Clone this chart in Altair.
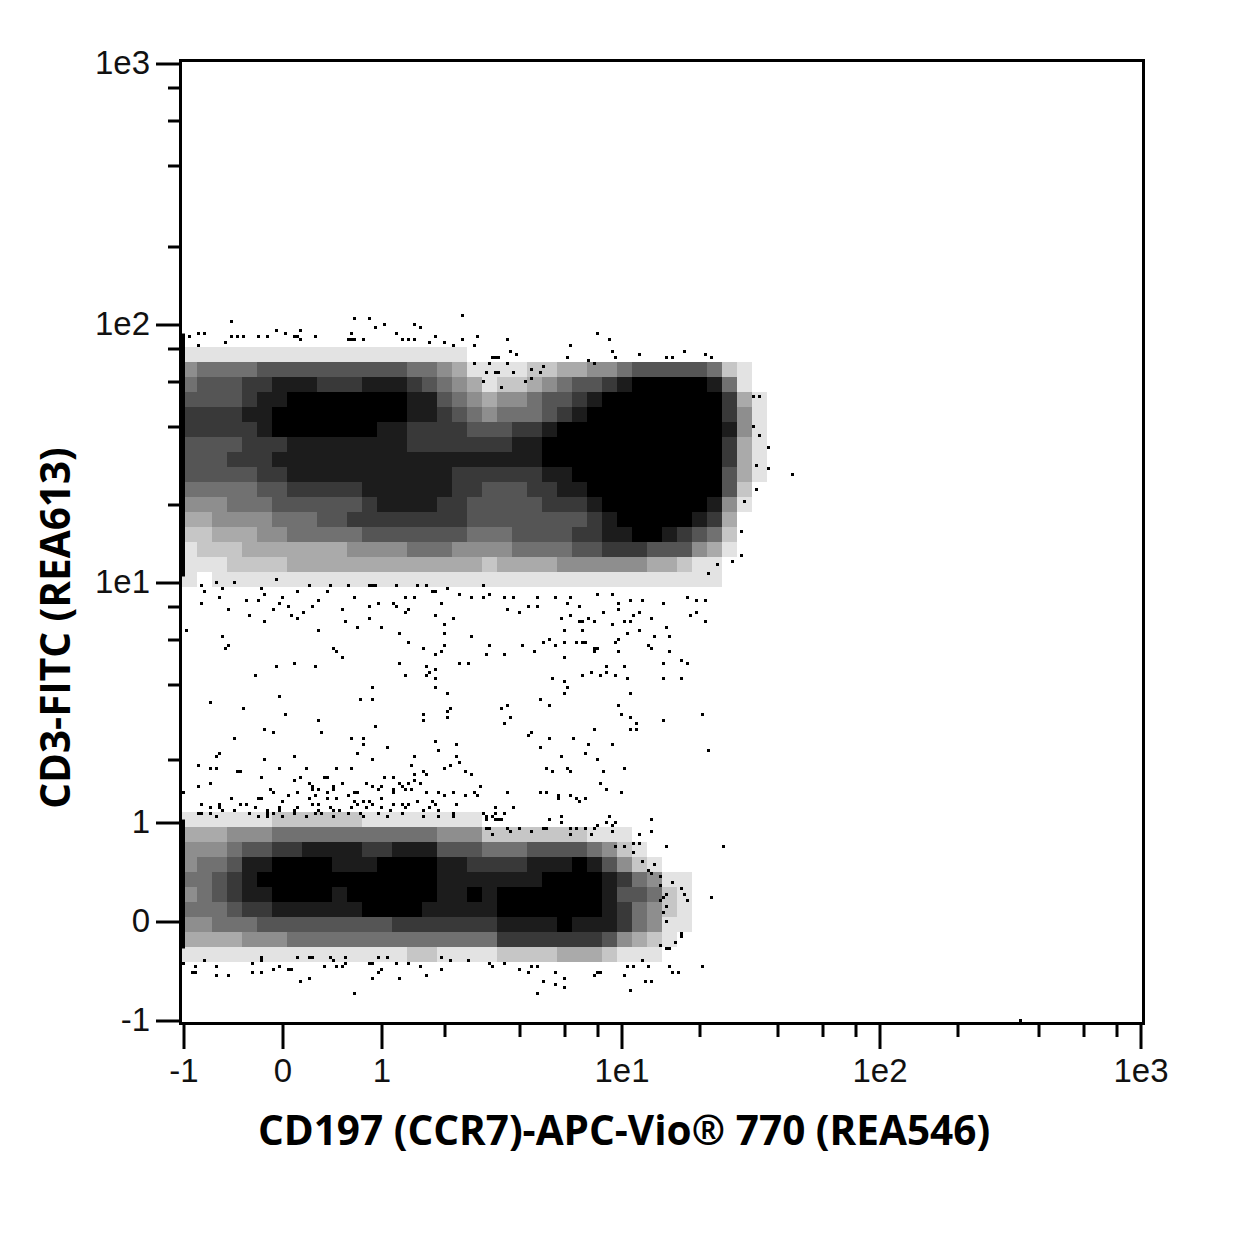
import json
import altair as alt
import pandas as pd

X_TITLE = "CD197 (CCR7)-APC-Vio® 770 (REA546)"
Y_TITLE = "CD3-FITC (REA613)"

# Display channel of each axis tick (the biexponential display has 320 channels)
tick_channels = [0, 33, 66, 87, 112, 127, 138, 146, 172, 198, 213, 224, 232, 258, 285, 300, 311, 319]
tick_labels = ["-1", "0", "1", "", "", "", "", "1e1", "", "", "", "", "1e2", "", "", "", "", "1e3"]
major_channels = [0, 33, 66, 146, 232, 319]

# Density (0-9): 5-channel cells, first column at channel 0
upper_first_row = 29   # bottom row index (row * 5 = y channel)
upper_rows = [  # listed top to bottom
    "111111111111111111100000000000000000000",
    "455556666666666554311112233445666665210",
    "566677888777888765431223456678999998510",
    "666678899999999886543445667899999999731",
    "777788999999999887654555678999999999741",
    "777778999999988777766677899999999999841",
    "666677788888888777777788999999999999731",
    "666777888888888888888888999999999999731",
    "666667788888888888777777889999999999631",
    "555556677777888888776667788999999999620",
    "444555666666788887766666777899999998410",
    "334444555667777777766666666789999987300",
    "223334455555666666655566667788998765200",
    "122233333334444555444455556677766643100",
    "111222233333333333332333344444433211000",
    "101111111111111111111111111111111111000",
]
lower_first_row = 4
lower_rows = [  # listed top to bottom
    "11111122222211111111000000000000000",
    "33344455555555555444222222211100000",
    "44456677888877888666555666654210000",
    "45568899998889999887777888986421000",
    "55678999999999999888888899998754110",
    "45678899998999999889899999998665210",
    "55567788888899998888899999998754210",
    "44555666666666777777788889888754110",
    "33334445555555555555577777776432100",
    "11111111111111122111122223332111000",
]

# Events standing on the left edge of the plot: (low channel, high channel)
edge_piles = [(24, 67), (148, 229)]

# Individual events in the sparse areas: (x channel, y channel)
dots_top_left = [
    (16,233),(57,234),(62,234),(93,235),(67,232),(64,231),(77,232),(79,231),(31,230),(39,230),(2,228),(5,229),(7,229),
    (16,228),(18,228),(20,228),(25,228),(28,228),(34,229),(37,228),(38,228),(44,228),(56,229),(60,227),(55,227),(56,227),
    (57,227),(71,229),(84,228),(98,228),(93,227),(73,227),(75,227),(77,227),(87,226),(97,225),(90,225),(82,226),(14,226),
    (5,225),(39,227),(102,219),(97,219),(104,221),(104,216),(101,216),(100,213),
]
dots_top_right = [
    (138,229),(142,227),(108,227),(129,225),(143,223),(167,223),(109,223),(111,222),(128,221),(152,222),(174,222),(176,221),
    (161,221),(163,221),(144,221),(135,220),(105,221),(103,221),(108,219),(102,219),(120,218),(137,219),(101,216),(105,216),
    (110,216),(116,217),(119,216),(116,214),(100,213),(106,211),(114,213),(192,208),(190,208),(190,198),(195,191),(195,184),
    (203,182),(192,195),(191,185),(191,177),(187,173),(186,163),(186,155),(183,153),(178,152),(175,149),(174,140),(171,140),
    (171,136),(169,135),(168,141),
]
dots_upper_fringe_left = [
    (7,143),(12,141),(6,139),(15,137),(22,135),(36,135),(38,134),(40,136),(30,137),(35,138),(32,139),(33,141),(43,138),
    (45,140),(25,140),(27,142),(21,140),(53,137),(62,134),(71,138),(75,137),(74,136),(84,135),(90,134),(86,139),(96,141),
    (100,141),(92,142),(84,143),(77,141),(74,141),(70,139),(65,139),(62,138),(57,141),(48,143),(42,145),(49,145),(55,145),
    (62,145),(63,145),(64,145),(71,145),(78,145),(83,143),(81,145),(88,144),(100,145),(38,143),(31,147),(26,144),(17,146),
    (13,144),(11,146),(6,145),(1,130),
]
dots_upper_fringe_right = [
    (135,134),(129,135),(126,134),(140,136),(145,137),(150,135),(152,136),(156,134),(160,139),(153,140),(149,140),(118,138),
    (115,138),(112,136),(108,137),(110,141),(107,141),(102,142),(100,141),(118,141),(124,141),(129,141),(128,139),(132,138),
    (138,142),(143,142),(145,139),
]
dots_middle_left = [
    (27,133),(54,133),(58,131),(66,131),(87,132),(87,129),(45,130),(13,128),(72,129),(96,128),(75,126),(15,125),(14,124),
    (50,124),(51,123),(87,125),(102,125),(80,124),(86,123),(84,122),(101,122),(53,121),(37,119),(31,118),(44,118),(72,119),
    (92,119),(95,119),(81,118),(84,117),(82,116),(81,115),(24,115),(74,115),(84,114),(84,111),(63,111),(88,109),(32,108),
    (59,107),(63,107),(9,106),(20,104),(89,104),(88,103),(34,102),(80,102),(88,101),(45,100),(80,100),(64,98),(27,97),
    (30,96),(46,96),(17,94),(56,94),(60,94),(60,92),(84,93),(91,92),(68,91),(85,90),(58,89),(12,89),(11,88),(37,88),(77,88),
    (91,88),(27,87),(63,87),(92,86),(5,85),(76,85),(89,85),(9,84),(11,84),(32,84),(41,84),(51,84),(56,84),(87,84),(94,83),
    (18,83),(19,83),(80,83),(81,82),(77,82),(96,82),(26,81),(39,81),(47,81),(48,81),(67,81),(70,81),(37,80),(77,80),
]
dots_above_lower_left = [
    (5,78),(9,79),(42,79),(43,78),(53,79),(50,78),(61,79),(63,78),(66,78),(72,79),(75,79),(73,78),(79,79),(99,78),(74,77),
    (76,77),(29,77),(43,77),(70,77),(65,77),(45,77),(50,77),(0,76),(30,76),(38,76),(48,76),(57,76),(58,76),(70,76),(81,76),
    (85,76),(90,76),(97,76),(35,75),(44,75),(55,75),(87,75),(94,75),(98,75),(16,74),(25,74),(26,74),(42,74),(48,74),(51,74),
    (66,74),(33,73),(57,73),(60,73),(62,73),(78,73),(83,73),(6,72),(12,72),(19,72),(21,72),(43,72),(45,72),(58,72),(63,72),
    (70,72),(73,72),(75,72),(91,72),(84,72),(9,71),(12,71),(24,71),(32,71),(38,71),(49,71),(56,71),(61,71),(66,71),(74,71),
    (82,71),(104,71),(13,70),(17,70),(28,70),(32,70),(37,70),(45,70),(50,70),(52,70),(69,70),(80,70),(85,70),(5,69),(6,69),
    (9,69),(22,69),(28,69),(30,69),(37,69),(44,69),(46,69),(55,69),(59,69),(65,69),(73,69),(90,69),(100,69),(104,69),(11,68),
    (25,68),(28,68),(33,68),(41,68),(50,68),(60,68),(68,68),(80,68),(85,68),(90,68),(101,68),
]
dots_middle_right = [
    (132,133),(133,133),(137,133),(143,132),(147,133),(149,133),(174,133),(161,131),(127,130),(133,130),(152,130),(148,129),
    (157,128),(162,128),(122,127),(145,127),(120,126),(127,126),(131,126),(134,126),(133,126),(144,126),(102,125),(113,125),
    (124,125),(155,125),(156,124),(137,124),(138,124),(137,123),(117,123),(145,123),(162,123),(101,122),(107,122),(127,121),
    (166,120),(160,119),(168,119),(141,118),(147,118),(136,116),(141,116),(133,115),(139,115),(144,115),(123,114),(148,114),
    (160,114),(166,114),(127,113),(128,111),(127,109),(149,109),(119,107),(108,105),(122,105),(145,105),(106,104),(146,102),
    (173,102),(109,101),(149,101),(160,100),(107,99),(151,99),(137,97),(149,97),(151,97),(116,96),(115,95),(122,94),(130,94),
    (135,92),(143,92),(119,91),(175,90),(134,89),(126,88),(138,87),(121,84),(128,84),(147,84),(123,83),(129,83),(140,83),
    (139,79),(99,78),(141,77),(108,76),(119,76),(121,76),(146,76),(125,75),(125,74),(129,75),(131,74),(134,74),(132,73),
    (110,71),(104,71),(100,69),(104,69),(107,69),(103,68),(126,68),(142,68),(101,67),(104,67),(105,67),(106,67),(122,67),
    (156,67),(126,66),(141,66),(144,66),(143,65),(101,64),(102,64),(108,64),(112,64),(120,64),(121,64),(129,64),(131,64),
    (134,64),(137,64),(138,65),(143,63),(156,63),(103,62),(109,63),(116,63),(152,62),(129,62),(136,62),(161,58),(180,58),
    (144,58),(147,58),(150,59),(152,59),(150,56),(153,53),(157,52),(155,50),(159,48),(156,49),
]
dots_lower_right = [
    (163,46),(159,45),(166,44),(167,42),(176,41),(168,40),(161,42),(160,41),(159,40),(161,38),(160,36),(161,33),(166,29),
    (166,28),(164,26),(159,25),(161,24),(162,24),(173,18),(162,18),(163,16),(165,16),(155,18),(148,18),(153,20),(150,18),
    (154,13),(156,13),(149,10),(147,15),(137,15),(138,16),(139,16),(127,14),(127,11),(124,12),(124,16),(120,13),(118,9),
    (112,17),(115,16),(116,18),(118,18),(107,19),(103,18),(102,19),(279,0),
]
dots_lower_left = [
    (7,20),(11,18),(0,19),(4,18),(3,16),(4,16),(11,15),(15,15),(23,16),(26,16),(23,19),(26,21),(26,20),(30,17),(32,18),
    (36,17),(35,17),(38,21),(42,21),(43,21),(39,13),(42,14),(47,18),(51,18),(49,21),(50,20),(53,18),(54,19),(54,21),(57,9),
    (62,19),(63,19),(66,17),(65,16),(63,14),(65,21),(68,21),(71,19),(72,14),(75,19),(79,18),(81,15),(86,17),(86,21),(89,20),
    (95,20),(102,19),
]

CELL = 5
BIN_HALF = 0.5


def grid_records(rows, first_row):
    out = []
    for i, row in enumerate(rows):
        j = first_row + len(rows) - 1 - i
        for k, ch in enumerate(row):
            if ch != "0":
                out.append({"x": k * CELL - BIN_HALF, "x2": (k + 1) * CELL - BIN_HALF,
                            "y": j * CELL - BIN_HALF, "y2": (j + 1) * CELL - BIN_HALF, "d": int(ch)})
    return out


cells = pd.DataFrame(grid_records(upper_rows, upper_first_row) + grid_records(lower_rows, lower_first_row))
all_dots = (dots_top_left + dots_top_right + dots_upper_fringe_left + dots_upper_fringe_right + dots_middle_left
            + dots_above_lower_left + dots_middle_right + dots_lower_right + dots_lower_left)
dots = pd.DataFrame(all_dots, columns=["c", "r"]).drop_duplicates()
dots = dots.assign(x=dots.c - BIN_HALF, x2=dots.c + BIN_HALF, y=dots.r - BIN_HALF, y2=dots.r + BIN_HALF)
piles = pd.DataFrame([{"x": 0, "y": a, "y2": b} for a, b in edge_piles])

label_map = {str(c): t for c, t in zip(tick_channels, tick_labels)}
label_expr = json.dumps(label_map) + "[datum.value]"
size_test = "indexof(" + json.dumps(major_channels) + ", datum.value) >= 0"

FONT = "Liberation Sans"
TITLE_FONT = "Open Sans"
DOMAIN = [-1, 320]


def axis(title, **kw):
    return alt.Axis(
        values=tick_channels, labelExpr=label_expr, title=title, domain=False, grid=False,
        tickColor="black", tickWidth=3,
        tickSize={"condition": {"test": size_test, "value": 25}, "value": 13},
        labelFont=FONT, labelFontSize=33, labelColor="#111111", labelOverlap=False, labelFlush=False,
        titleFont=TITLE_FONT, titleFontSize=40.5, titleFontWeight="bold", titleColor="black",
        **kw,
    )


x_axis = axis(X_TITLE, labelPadding=7, titleX=443, titleY=121, titleBaseline="alphabetic",
              titleAnchor="middle", titleAlign="center")
y_axis = axis(Y_TITLE, labelPadding=6, titleX=-111, titleY=567, titleBaseline="alphabetic",
              titleAnchor="middle", titleAlign="center")

density = alt.Chart(cells).mark_rect(color="black", strokeWidth=0).encode(
    x=alt.X("x:Q", scale=alt.Scale(domain=DOMAIN, nice=False, zero=False), axis=x_axis),
    x2="x2:Q",
    y=alt.Y("y:Q", scale=alt.Scale(domain=DOMAIN, nice=False, zero=False), axis=y_axis),
    y2="y2:Q",
    opacity=alt.Opacity("d:Q", scale=alt.Scale(domain=[0, 9], range=[0, 1]), legend=None),
)
events = alt.Chart(dots).mark_rect(color="black", opacity=1, strokeWidth=0).encode(
    x=alt.X("x:Q"), x2="x2:Q", y=alt.Y("y:Q"), y2="y2:Q",
)
edge = alt.Chart(piles).mark_rule(color="black", strokeWidth=3).encode(
    x=alt.X("x:Q"), y=alt.Y("y:Q"), y2="y2:Q",
)

chart = (
    alt.layer(density, events, edge)
    .properties(
        width=963, height=963,
        padding={"left": 172.5, "top": 52.5, "right": 90, "bottom": 200},
        autosize=alt.AutoSizeParams(type="none"),
        background="white",
    )
    .configure_view(stroke="black", strokeWidth=3, fill="white")
)
chart.save("out.html", embed_options={"renderer": "svg", "actions": False})
